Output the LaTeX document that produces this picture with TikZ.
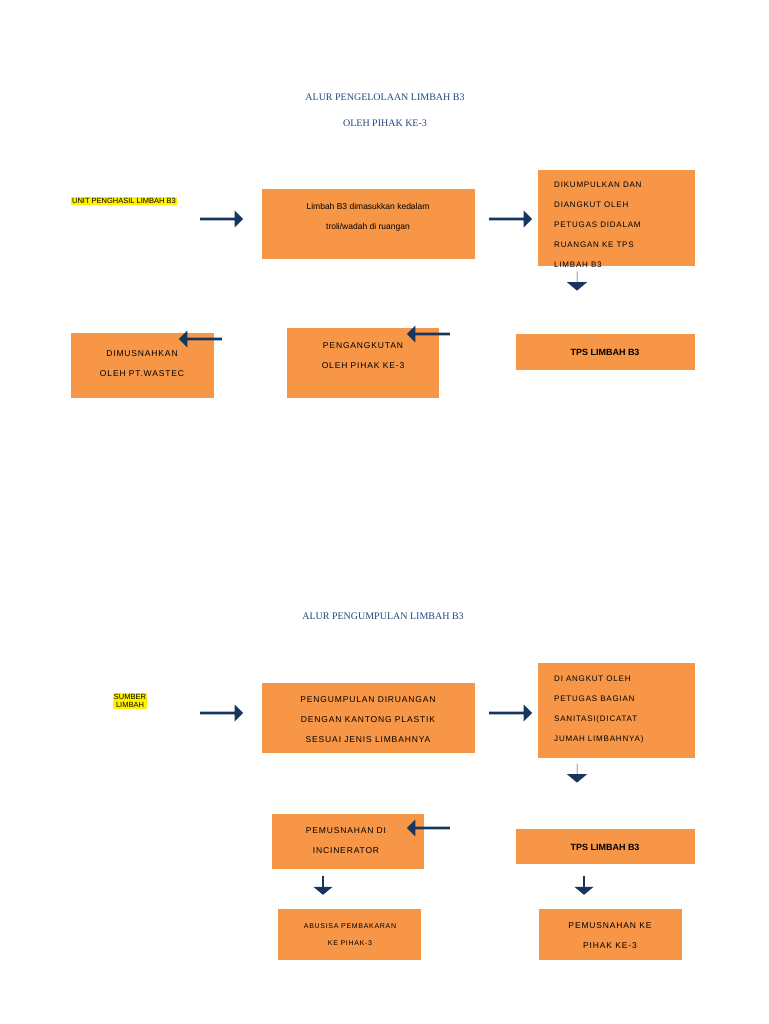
\documentclass[tikz,border=0pt]{standalone}
\usepackage{fontspec}
\setmainfont{Liberation Sans}
\newfontfamily\ttl{Liberation Serif}
\newfontfamily\spc[LetterSpace=10]{Liberation Sans}
\usetikzlibrary{shapes.arrows}
\definecolor{org}{HTML}{F79646}
\definecolor{navy}{HTML}{17365D}
\definecolor{ttlc}{HTML}{1F497D}
\tikzset{
 box/.style={fill=org,draw=none},
 txt/.style={font=\spc\fontsize{8.5}{20}\selectfont,align=center,inner sep=0},
 ltxt/.style={font=\spc\fontsize{8}{20}\selectfont,align=left,inner sep=0,anchor=north west},
 title/.style={font=\ttl\fontsize{10}{12}\selectfont\color{ttlc}},
 hl/.style={fill=yellow,inner sep=1pt,font=\fontsize{7.5}{8.5}\selectfont,align=center},
 rarr/.style={single arrow,fill=navy,draw=none,minimum width=17pt,single arrow head extend=1pt,minimum height=43pt,inner sep=0,shape border rotate=0},
 larr/.style={rarr,shape border rotate=180},
 darr/.style={single arrow,fill=navy,draw=none,minimum width=20pt,single arrow head extend=8pt,single arrow tip angle=100,minimum height=19pt,inner sep=0,shape border rotate=270}
}
\begin{document}
\begin{tikzpicture}[x=1pt,y=-1pt]
\useasboundingbox (0,0) rectangle (768,1024);
% ---------- part 1
\node[title] (t1) at (385,97) {ALUR PENGELOLAAN LIMBAH B3};
\node[title] (t2) at (385,123) {OLEH PIHAK KE-3};
\node[hl] (u) at (124,201) {UNIT PENGHASIL LIMBAH B3};
\node[rarr] (a1) at (221,219) {};
\fill[box] (262,189) rectangle (475,259);
\node[font=\fontsize{8.5}{20}\selectfont,align=center] (b1) at (368,217) {Limbah B3 dimasukkan kedalam\\troli/wadah di ruangan};
\node[rarr] (a2) at (510,219) {};
\begin{scope}
\clip (538,170) rectangle (695,266);
\fill[box] (538,170) rectangle (695,266);
\node[ltxt] (b2) at (554,182) {DIKUMPULKAN DAN\\DIANGKUT OLEH\\PETUGAS DIDALAM\\RUANGAN KE TPS\\LIMBAH B3};
\end{scope}
\node[darr] (a3) at (577,281) {};
\fill[box] (516,334) rectangle (695,370);
\node[font=\bfseries\fontsize{9}{11}\selectfont] (tps1) at (605,352) {TPS LIMBAH B3};
\fill[box] (287,328) rectangle (439,398);
\node[txt] (p1) at (363,356) {PENGANGKUTAN\\OLEH PIHAK KE-3};
\node[larr] (a4) at (429,334) {};
\fill[box] (71,333) rectangle (214,398);
\node[txt] (d1) at (142,364) {DIMUSNAHKAN\\OLEH PT.WASTEC};
\node[larr] (a5) at (201,339) {};
% ---------- part 2
\node[title] (t3) at (383,616) {ALUR PENGUMPULAN LIMBAH B3};
\node[hl] (s) at (130,701) {SUMBER\\LIMBAH};
\node[rarr] (c1) at (221,713) {};
\begin{scope}
\clip (262,683) rectangle (475,753);
\fill[box] (262,683) rectangle (475,753);
\node[txt,anchor=north] (e1) at (368,696) {PENGUMPULAN DIRUANGAN\\DENGAN KANTONG PLASTIK\\SESUAI JENIS LIMBAHNYA};
\end{scope}
\node[rarr] (c2) at (510,713) {};
\fill[box] (538,663) rectangle (695,758);
\node[ltxt] (e2) at (554,676) {DI ANGKUT OLEH\\PETUGAS BAGIAN\\SANITASI(DICATAT\\JUMAH LIMBAHNYA)};
\node[darr] (c3) at (577,773) {};
\fill[box] (516,829) rectangle (695,864);
\node[font=\bfseries\fontsize{9}{11}\selectfont] (tps2) at (605,847) {TPS LIMBAH B3};
\node[darr,minimum width=19pt,single arrow head extend=2pt] (c4) at (584,885) {};
\begin{scope}
\clip (539,909) rectangle (682,960);
\fill[box] (539,909) rectangle (682,960);
\node[txt,anchor=north] (e3) at (610,922) {PEMUSNAHAN KE\\PIHAK KE-3};
\end{scope}
\fill[box] (272,814) rectangle (424,869);
\node[txt] (e4) at (346,841) {PEMUSNAHAN DI\\INCINERATOR};
\node[larr] (c5) at (429,828) {};
\node[darr,minimum width=19pt,single arrow head extend=2pt] (c6) at (323,885) {};
\fill[box] (278,909) rectangle (421,960);
\node[font=\spc\fontsize{7}{17}\selectfont,align=center,inner sep=0] (e5) at (350,935) {ABUSISA PEMBAKARAN\\KE PIHAK-3};
\end{tikzpicture}
\end{document}
